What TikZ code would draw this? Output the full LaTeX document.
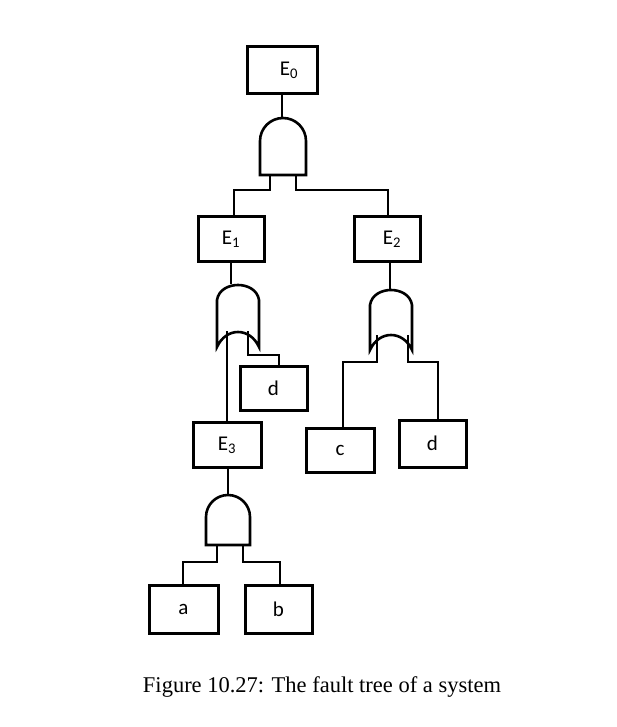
\documentclass[tikz,border=0pt]{standalone}
\usepackage{fontspec}
\newfontfamily\lab{Carlito}
\setmainfont{Liberation Serif}
\begin{document}
\begin{tikzpicture}[x=1pt,y=-1pt,line width=2.6pt,
  bx/.style={draw,rectangle,line width=3pt,minimum width=#1,font=\lab\fontsize{21}{23}\selectfont,inner sep=0pt},
  ln/.style={line width=2pt}]
\useasboundingbox (0,0) rectangle (617,727);
% boxes
\node[bx=70pt,minimum height=47pt] (E0) at (282,70.5) {\hspace{14pt}E\textsubscript{0}};
\node[bx=66pt,minimum height=44pt] (E1) at (231,239) {E\textsubscript{1}};
\node[bx=66pt,minimum height=44pt] (E2) at (387,239) {\hspace{10pt}E\textsubscript{2}};
\node[bx=67pt,minimum height=44pt] (d1) at (273.5,388) {d};
\node[bx=68pt,minimum height=45pt] (E3) at (227,445) {E\textsubscript{3}};
\node[bx=68pt,minimum height=44pt] (c) at (340,450) {c};
\node[bx=67pt,minimum height=47pt] (d2) at (432.5,443.5) {d};
\node[bx=69pt,minimum height=48pt] (a) at (183.5,609) {a};
\node[bx=67pt,minimum height=48pt] (b) at (278.5,609) {b};
% AND gate G0
\draw (260,175) -- (260,141) arc[start angle=180,end angle=360,radius=23] -- (306,175) -- cycle;
\draw[ln] (E0.south) -- (282,118);
\draw[ln] (270,175) |- (234,190) -- (E1.north -| 234,0);
\draw[ln] (296,175) |- (388,190) -- (E2.north -| 388,0);
% OR gate G1
\draw (217,347) -- (217,300) .. controls (220,280) and (256,280) .. (259,300) -- (259,347)
  .. controls (250,327) and (226,327) .. cycle;
\draw[ln] (E1.south) -- (231,284);
\draw[ln] (227,331) -- (E3.north -| 227,0);
\draw[ln] (248,331) |- (279,355) -- (d1.north -| 279,0);
% OR gate G2
\draw (370,350) -- (370,305) .. controls (373,285) and (409,285) .. (412,305) -- (412,350)
  .. controls (403,330) and (379,330) .. cycle;
\draw[ln] (E2.south -| 390,0) -- (390,289);
\draw[ln] (377,335) |- (343,362) -- (c.north -| 343,0);
\draw[ln] (408,335) |- (438,362) -- (d2.north -| 438,0);
% AND gate G3
\draw (206,545) -- (206,517) arc[start angle=180,end angle=360,radius=22] -- (250,545) -- cycle;
\draw[ln] (E3.south -| 228,0) -- (228,495);
\draw[ln] (217,545) |- (183,562) -- (a.north -| 183,0);
\draw[ln] (243,545) |- (280,562) -- (b.north -| 280,0);
\node[font=\fontsize{22.5}{26}\selectfont] (cap) at (322,687) {Figure 10.27: The fault tree of a system};
\end{tikzpicture}
\end{document}
